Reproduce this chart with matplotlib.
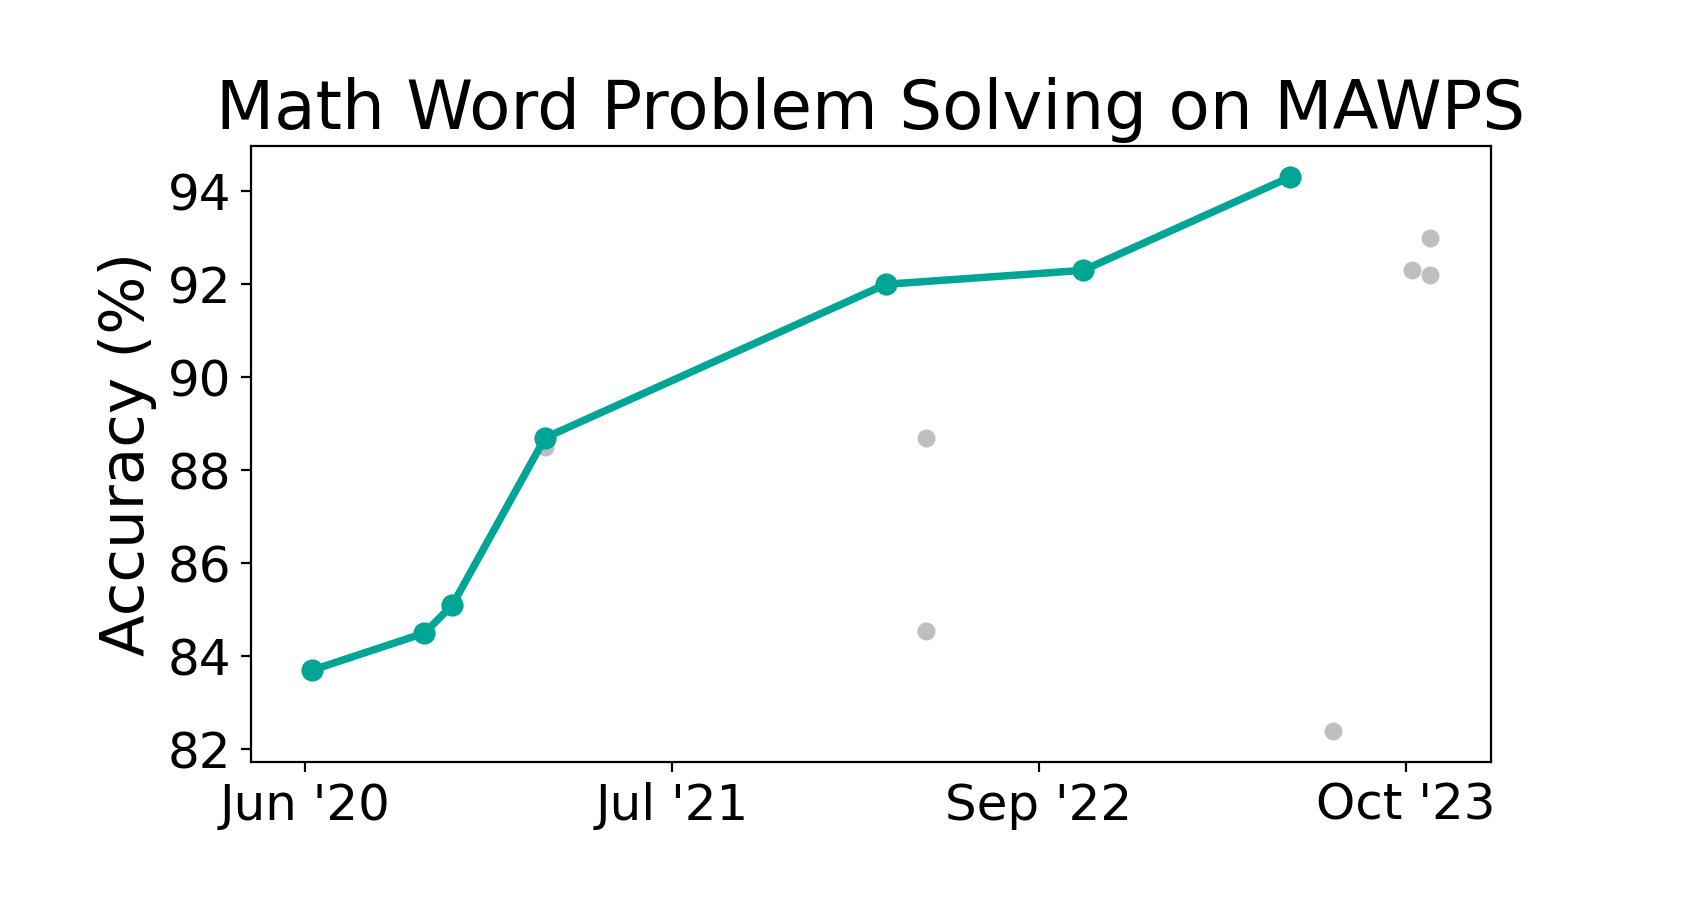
import numpy as np
import pandas as pd
import matplotlib
matplotlib.use("Agg")
import matplotlib.pyplot as plt

# State-of-the-art line
sota_dates = pd.to_datetime([
    "2020-06-18", "2020-10-21", "2020-11-21", "2021-03-04",
    "2022-03-17", "2022-10-22", "2023-06-08",
])
sota_acc = [83.7, 84.5, 85.1, 88.7, 92.0, 92.3, 94.3]

# Other submitted results
other_dates = pd.to_datetime([
    "2021-03-04", "2022-05-01", "2022-05-01", "2023-07-26",
    "2023-10-22", "2023-11-11", "2023-11-11",
])
other_acc = [88.5, 88.7, 84.55, 82.4, 92.3, 93.0, 92.2]

# Tick positions and labels
tick_dates = pd.to_datetime(["2020-06-11", "2021-07-23", "2022-09-03", "2023-10-15"])
tick_labels = ["Jun '20", "Jul '21", "Sep '22", "Oct '23"]

teal = "#00a595"
grey = "#bfbfbf"

fig = plt.figure(figsize=(8.5, 4.5), dpi=200)
ax = fig.add_axes([0.1475, 0.153, 0.7296, 0.685])

ax.scatter(other_dates, other_acc, s=42, color=grey, zorder=1, linewidths=0)
ax.plot(sota_dates, sota_acc, color=teal, linewidth=2.7, marker="o",
        markersize=7, zorder=2)
ax.margins(x=0.0545, y=0.057)

ax.set_xticks(tick_dates)
ax.set_xticklabels(tick_labels)
ax.set_yticks([82, 84, 86, 88, 90, 92, 94])
ax.tick_params(labelsize=18)

ax.set_ylabel("Accuracy (%)", fontsize=22)
ax.set_title("Math Word Problem Solving on MAWPS", fontsize=24.3)

plt.savefig("out.png", dpi=200)
